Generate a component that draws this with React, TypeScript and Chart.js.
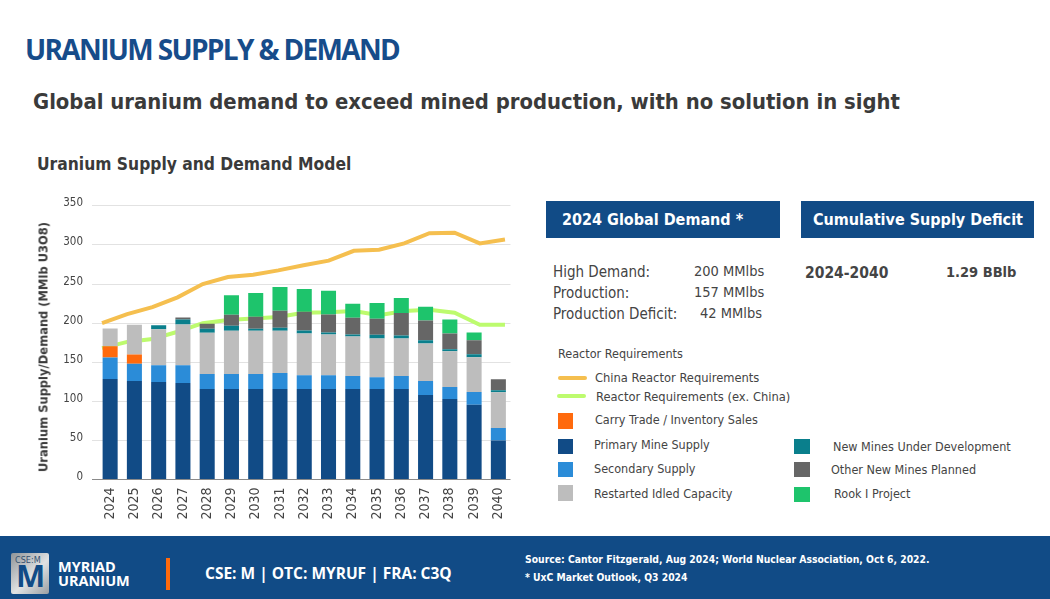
import React, { useEffect, useRef } from "react";
import { Chart, registerables } from "chart.js";

Chart.register(...registerables);

const years = [2024, 2025, 2026, 2027, 2028, 2029, 2030, 2031, 2032, 2033, 2034, 2035, 2036, 2037, 2038, 2039, 2040];
const primaryMine = [128.5, 126, 124.7, 123.4, 115.8, 115.8, 115.8, 115.8, 115.8, 115.8, 115.8, 115.8, 115.8, 108, 103, 95.5, 50];
const secondary = [27.5, 22, 21.5, 22.8, 19, 19, 19, 20.3, 17.7, 17.7, 16.5, 15, 16.5, 18, 15.3, 16.5, 16];
const carryTrade = [14.3, 12, 0, 0, 0, 0, 0, 0, 0, 0, 0, 0, 0, 0, 0, 0, 0];
const restarted = [23, 38, 46, 52, 53, 55.6, 55.6, 54.3, 53.3, 52, 50.7, 49.5, 48, 48, 45.7, 44.4, 45.6];
const underDevelopment = [0, 0, 5, 6.6, 5, 6.4, 2.5, 3.8, 3.8, 2.5, 2.5, 5, 3.8, 4, 2.5, 3.8, 2.5];
const otherPlanned = [0, 0, 0, 2.5, 6.4, 14, 15.4, 21.6, 24, 23, 21.5, 20.3, 29, 25.3, 20.3, 18, 14];
const rookOne = [0, 0, 0, 0, 0, 25, 30.4, 30.4, 29.2, 30.3, 17.8, 20.2, 19, 17.7, 17.8, 10, 0];
const chinaReq = [200, 211.5, 220.6, 233, 250, 259, 262, 267.5, 274, 280, 292.5, 294, 302, 315, 315.7, 302, 307];
const exChinaReq = [168, 176, 179.6, 189, 200, 204, 206, 208, 213.4, 214, 215.5, 210, 215.5, 217, 213.4, 198, 198];
const yTicks = [0, 50, 100, 150, 200, 250, 300, 350];

const NAVY = "#114b86";
const BLUE = "#2b8cd8";
const GREY = "#bdbdbd";
const ORANGE = "#ff6a0d";
const TEAL = "#0a7f8c";
const DARK = "#666666";
const GREEN = "#1ec46c";
const YELLOW = "#f5bf4f";
const LIME = "#bdfb6e";
const FONT = "'DejaVu Sans Condensed', 'DejaVu Sans', sans-serif";

function SupplyDemandChart() {
  const ref = useRef<HTMLCanvasElement | null>(null);
  useEffect(() => {
    if (!ref.current) return;
    const bar = (label: string, data: number[], color: string) => ({
      type: "bar" as const,
      label,
      data,
      backgroundColor: color,
      grouped: false,
      categoryPercentage: 1,
      barPercentage: 0.62,
      xAxisID: "x",
      yAxisID: "y",
      order: 1,
    });
    // lines sit on their own hidden axes, the original runs them a bit wider than the bars
    const line = (label: string, data: number[], color: string) => ({
      type: "line" as const,
      label,
      data: data.map((y, i) => ({ x: i, y })),
      borderColor: color,
      borderWidth: 4,
      pointRadius: 0,
      xAxisID: "x2",
      yAxisID: "y2",
      order: 5,
    });
    const chart = new Chart(ref.current, {
      data: {
        labels: years.map(String),
        datasets: [
          bar("Primary Mine Supply", primaryMine, NAVY),
          bar("Secondary Supply", secondary, BLUE),
          bar("Carry Trade / Inventory Sales", carryTrade, ORANGE),
          bar("Restarted Idled Capacity", restarted, GREY),
          bar("New Mines Under Development", underDevelopment, TEAL),
          bar("Other New Mines Planned", otherPlanned, DARK),
          bar("Rook I Project", rookOne, GREEN),
          line("China Reactor Requirements", chinaReq, YELLOW),
          line("Reactor Requirements (ex. China)", exChinaReq, LIME),
        ] as any,
      },
      options: {
        animation: false,
        responsive: false,
        layout: { padding: { top: 9, right: 9.5, left: 0, bottom: 0 } },
        plugins: { legend: { display: false }, tooltip: { enabled: false } },
        scales: {
          x: {
            type: "category",
            offset: true,
            stacked: true,
            grid: { display: false },
            border: { display: false },
            ticks: {
              minRotation: 90,
              maxRotation: 90,
              color: "#444",
              padding: 0,
              font: { family: FONT, size: 14 },
            },
            afterFit: (s: any) => {
              s.height = 50.5;
            },
          },
          y: {
            stacked: true,
            min: 0,
            max: 350,
            afterBuildTicks: (s: any) => {
              s.ticks = yTicks.map((value) => ({ value }));
            },
            border: { display: false },
            grid: {
              color: (c: any) => (c.tick && c.tick.value === 0 ? "#8a8a8a" : "#e2e2e2"),
              tickColor: (c: any) => (c.tick && c.tick.value === 0 ? "#8a8a8a" : "#e2e2e2"),
              tickLength: 6,
            },
            ticks: { color: "#444", padding: 9, labelOffset: -2.5, font: { family: FONT, size: 11.5 } },
            afterFit: (s: any) => {
              s.width = 68;
            },
          },
          x2: { type: "linear", display: false, min: -0.16, max: 16.22 },
          y2: { type: "linear", display: false, min: 0, max: 350 },
        },
      } as any,
    });
    return () => chart.destroy();
  }, []);
  return <canvas ref={ref} width={490} height={340} style={{ position: "absolute", left: 30, top: 190 }} />;
}

function T({ x, y, size = 13, color = "#444", weight = 400, font = FONT, ls = 0, style, children }: any) {
  return (
    <div
      style={{
        position: "absolute",
        left: x,
        top: y,
        fontSize: size,
        lineHeight: `${Math.round(size * 1.3)}px`,
        color,
        fontWeight: weight,
        fontFamily: font,
        letterSpacing: ls,
        whiteSpace: "nowrap",
        ...style,
      }}
    >
      {children}
    </div>
  );
}

function Box({ x, y, w, h, color, style }: any) {
  return <div style={{ position: "absolute", left: x, top: y, width: w, height: h, background: color, ...style }} />;
}

export default function App() {
  return (
    <div style={{ position: "absolute", left: 0, top: 0, width: 1050, height: 599, overflow: "hidden", background: "#fff" }}>
      <T x={25} y={31} size={28} color="#174c8a" weight={700} font="'Open Sans', sans-serif" ls={-1.65}>
        URANIUM SUPPLY &amp; DEMAND
      </T>
      <T x={33} y={88} size={21.85} color="#3a3a3a" weight={700}>
        Global uranium demand to exceed mined production, with no solution in sight
      </T>
      <T x={37} y={153} size={17.3} color="#3a3a3a" weight={700}>
        Uranium Supply and Demand Model
      </T>

      <SupplyDemandChart />
      <T
        x={43}
        y={347}
        size={12.8}
        color="#3a3a3a"
        weight={700}
        style={{ transform: "translate(-50%, -50%) rotate(-90deg)" }}
      >
        Uranium Supply/Demand (MMlb U3O8)
      </T>

      <Box x={546} y={201} w={234} h={37} color={NAVY} />
      <T x={562} y={209} size={16} color="#fff" weight={700}>
        2024 Global Demand *
      </T>
      <Box x={801} y={201} w={233} h={37} color={NAVY} />
      <T x={813} y={209} size={16} color="#fff" weight={700}>
        Cumulative Supply Deficit
      </T>

      <T x={553} y={262} size={15}>High Demand:</T>
      <T x={553} y={283} size={15}>Production:</T>
      <T x={553} y={304} size={15}>Production Deficit:</T>
      <T x={694} y={262} size={14.5}>200 MMlbs</T>
      <T x={694} y={283} size={14.5}>157 MMlbs</T>
      <T x={700} y={304} size={14.5}>42 MMlbs</T>
      <T x={805} y={263} size={15.5} weight={700}>2024-2040</T>
      <T x={946} y={263} size={14.5} weight={700}>1.29 BBlb</T>

      <T x={558} y={346} size={12.5}>Reactor Requirements</T>
      <Box x={558} y={376} w={29} h={4} color={YELLOW} style={{ borderRadius: 2 }} />
      <T x={595} y={369} size={12.8}>China Reactor Requirements</T>
      <Box x={557} y={394} w={29} h={4} color={LIME} style={{ borderRadius: 2 }} />
      <T x={596} y={388} size={12.8}>Reactor Requirements (ex. China)</T>

      <Box x={558} y={413} w={15} h={16} color={ORANGE} />
      <T x={595} y={412} size={12.5}>Carry Trade / Inventory Sales</T>
      <Box x={558} y={439} w={15} h={15} color={NAVY} />
      <T x={594} y={437} size={12.5}>Primary Mine Supply</T>
      <Box x={558} y={462} w={15} h={15} color={BLUE} />
      <T x={594} y={461} size={12.5}>Secondary Supply</T>
      <Box x={558} y={485} w={15} h={16} color={GREY} />
      <T x={594} y={486} size={12.5}>Restarted Idled Capacity</T>
      <Box x={794} y={439} w={16} h={15} color={TEAL} />
      <T x={833} y={439} size={12.5}>New Mines Under Development</T>
      <Box x={794} y={462} w={16} h={15} color={DARK} />
      <T x={831} y={462} size={12.5}>Other New Mines Planned</T>
      <Box x={794} y={487} w={16} h={15} color={GREEN} />
      <T x={834} y={486} size={12.5}>Rook I Project</T>

      <Box x={0} y={536} w={1050} h={63} color={NAVY} />
      <Box x={11} y={553} w={38} h={41} color="#aaa" style={{ background: "linear-gradient(135deg,#8f9498,#e0e2e3 55%,#9a9ea2)", borderRadius: 2 }} />
      <T x={15} y={554} size={9} color="#33506f">CSE:M</T>
      <T x={16} y={555} size={31} color={NAVY} weight={700} font="'Open Sans', sans-serif">M</T>
      <T x={58} y={557} size={14.5} color="#fff" weight={700} font="'Open Sans', sans-serif">MYRIAD</T>
      <T x={58} y={571} size={14.5} color="#fff" weight={700} font="'Open Sans', sans-serif">URANIUM</T>
      <Box x={166} y={558} w={4} h={32} color={ORANGE} />
      <T x={205} y={563} size={15.5} color="#fff" weight={700} font="'Open Sans', sans-serif">CSE: M | OTC: MYRUF | FRA: C3Q</T>
      <T x={525} y={553} size={10.3} color="#fff" weight={700}>Source:  Cantor Fitzgerald, Aug 2024; World Nuclear Association, Oct 6, 2022.</T>
      <T x={525} y={571} size={10.3} color="#fff" weight={700}>*  UxC Market Outlook, Q3 2024</T>
    </div>
  );
}
